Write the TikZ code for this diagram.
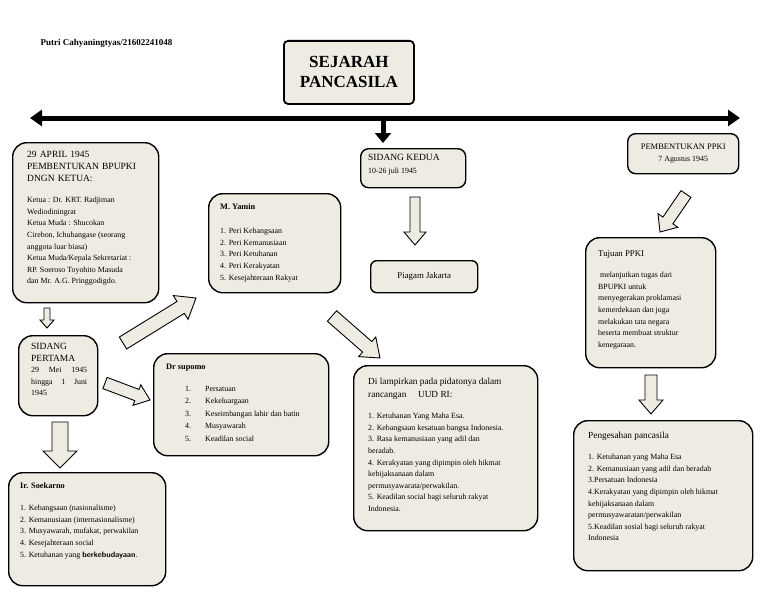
\documentclass[tikz,border=0pt]{standalone}
\usepackage{fontspec}
\setmainfont{Liberation Serif}
\usetikzlibrary{arrows.meta,calc}
\definecolor{bg}{RGB}{238,236,226}
\newcommand\blockarrow[5]{%
 \coordinate (#1c) at ($(#2)!#5!(#1)$);
 \draw[barr] ($(#1)!#3!90:(#2)$) -- ($(#1c)!#3!-90:(#1)$) -- ($(#1c)!#4!-90:(#1)$) -- (#2) -- ($(#1c)!#4!90:(#1)$) -- ($(#1c)!#3!90:(#1)$) -- ($(#1)!#3!-90:(#2)$) -- cycle;}
\begin{document}
\begin{tikzpicture}[x=1pt,y=-1pt,
 box/.style={draw=black,line width=1.4pt,fill=bg,rounded corners=14pt,anchor=north west,inner sep=0},
 txt/.style={anchor=north west,align=left,inner sep=0,font=\fontsize{7.9}{11.6}\selectfont},
 big/.style={txt,font=\fontsize{9.5}{12}\selectfont},
 barr/.style={draw=black,line width=0.9pt,fill=bg,line join=miter}]
\useasboundingbox (0,0) rectangle (768,594);
\hyphenpenalty=10000
\node[anchor=north west,font=\bfseries\fontsize{9}{10}\selectfont] (au) at (37,36) {Putri Cahyaningtyas/21602241048};
\node[box,rounded corners=4pt,line width=1.8pt,minimum width=130pt,minimum height=63pt] (t) at (283,40) {};
\node[align=center,font=\bfseries\fontsize{17}{20}\selectfont] (tt) at (t.center) {SEJARAH\\PANCASILA};
\coordinate (tl) at (30,118); \coordinate (tr) at (740,118); \coordinate (tm) at (383,118);
\draw[line width=5pt,{Triangle[width=16pt,length=12pt]}-{Triangle[width=16pt,length=12pt]}] (tl) -- (tr);
\coordinate (tmd) at (383,143);
\draw[line width=5pt,-{Triangle[width=16pt,length=10pt]}] (tm) -- (tmd);
% box 1
\node[box,minimum width=146pt,minimum height=160pt] (b1) at (12,142) {};
\node[big,text width=135pt] (b1t) at (27,151) {29 APRIL 1945\\PEMBENTUKAN BPUPKI\\DNGN KETUA:};
\node[txt] (b1u) at (27,197) {Ketua : Dr. KRT. Radjiman\\Wediodiningrat\\Ketua Muda : Shucokan\\Cirebon, Ichubangase (seorang\\anggota luar biasa)\\Ketua Muda/Kepala Sekretariat :\\RP. Soeroso Toyohito Masuda\\dan Mr. A.G. Pringgodigdo.};
% sidang kedua
\node[box,minimum width=105pt,minimum height=39pt,rounded corners=8pt] (sk) at (360,148) {};
\node[big] (skt) at (368,154) {SIDANG KEDUA};
\node[txt] (sku) at (368,168) {10-26 juli 1945};
% ppki
\node[box,minimum width=111pt,minimum height=40pt,rounded corners=8pt] (pp) at (627,133) {};
\node[align=center,inner sep=0,font=\fontsize{8.5}{12}\selectfont] (ppt) at (pp.center) {PEMBENTUKAN PPKI\\{\fontsize{7.9}{10}\selectfont 7 Agustus 1945}};
% yamin
\node[box,minimum width=132pt,minimum height=99pt] (ym) at (208,193) {};
\node[txt,font=\bfseries\fontsize{8.3}{10}\selectfont] (ymt) at (220,204) {M. Yamin};
\node[txt] (ymu) at (220,228) {1. Peri Kebangsaan\\2. Peri Kemanusiaan\\3. Peri Ketuhanan\\4. Peri Kerakyatan\\5. Kesejahteraan Rakyat};
% piagam
\node[box,minimum width=107pt,minimum height=32pt,rounded corners=6pt] (pj) at (370,260) {};
\node[inner sep=0,font=\fontsize{8.8}{10}\selectfont] (pjt) at (pj.center) {Piagam Jakarta};
% tujuan ppki
\node[box,minimum width=130pt,minimum height=130pt] (tu) at (585,237) {};
\node[txt,font=\fontsize{8.8}{10}\selectfont] (tut) at (598,250) {Tujuan PPKI};
\node[txt] (tuu) at (598,272) {\ melanjutkan tugas dari\\BPUPKI untuk\\menyegerakan proklamasi\\kemerdekaan dan juga\\melakukan tata negara\\beserta membuat struktur\\kenegaraan.};
% sidang pertama
\node[box,minimum width=79pt,minimum height=80pt] (sp) at (18,335) {};
\node[big] (spt) at (31,343) {SIDANG\\PERTAMA};
\node[txt,text width=56pt,align=justify] (spu) at (31,367) {29\hfill Mei\hfill 1945\\hingga\hfill 1\hfill Juni\\1945};
% supomo
\node[box,minimum width=175pt,minimum height=102pt] (su) at (153,353) {};
\node[txt,font=\bfseries\fontsize{8.3}{10}\selectfont] (sut) at (166,364) {Dr supomo};
\node[txt,font=\fontsize{7.9}{12.4}\selectfont] (suu) at (185,386) {1.\hspace{14pt}Persatuan\\2.\hspace{14pt}Kekeluargaan\\3.\hspace{14pt}Keseimbangan lahir dan batin\\4.\hspace{14pt}Musyawarah\\5.\hspace{14pt}Keadilan social};
% di lampirkan
\node[box,minimum width=184pt,minimum height=165pt] (dl) at (353,365) {};
\node[txt,font=\fontsize{9.3}{12.5}\selectfont] (dlt) at (368,378) {Di lampirkan pada pidatonya dalam\\rancangan \quad UUD RI:};
\node[txt] (dlu) at (368,413) {1. Ketuhanan Yang Maha Esa.\\2. Kebangsaan kesatuan bangsa Indonesia.\\3. Rasa kemanusiaan yang adil dan\\beradab.\\4. Kerakyatan yang dipimpin oleh hikmat\\kebijaksanaan dalam\\permusyawarata/perwakilan.\\5. Keadilan social bagi seluruh rakyat\\Indonesia.};
% pengesahan
\node[box,minimum width=179pt,minimum height=150pt] (pg) at (573,420) {};
\node[txt,font=\fontsize{9.3}{11}\selectfont] (pgt) at (588,432) {Pengesahan pancasila};
\node[txt] (pgu) at (588,454) {1. Ketuhanan yang Maha Esa\\2. Kemanusiaan yang adil dan beradab\\3.Persatuan Indonesia\\4.Kerakyatan yang dipimpin oleh hikmat\\kebijaksanaan dalam\\permusyawaratan/perwakilan\\5.Keadilan sosial bagi seluruh rakyat\\Indonesia};
% soekarno
\node[box,minimum width=157pt,minimum height=113pt] (so) at (8,472) {};
\node[txt,font=\bfseries\fontsize{8.3}{10}\selectfont] (sot) at (20,483) {Ir. Soekarno};
\node[txt] (sou) at (20,505) {1. Kebangsaan (nasionalisme)\\2. Kemanusiaan (internasionalisme)\\3. Musyawarah, mufakat, perwakilan\\4. Kesejahteraan social\\5. Ketuhanan yang \textbf{\sffamily berkebudayaan}.};
% block arrows
\coordinate (a1) at (47,308); \coordinate (a1e) at (47,328);
\coordinate (a2) at (60,422); \coordinate (a2e) at (60,468);
\coordinate (a3) at (123,343); \coordinate (a3e) at (196,298);
\coordinate (a4) at (105,383); \coordinate (a4e) at (150,400);
\coordinate (a5) at (332,316); \coordinate (a5e) at (380,358);
\coordinate (a6) at (415,197); \coordinate (a6e) at (415,245);
\coordinate (a7) at (686,194); \coordinate (a7e) at (660,232);
\coordinate (a8) at (651,375); \coordinate (a8e) at (651,414);
\blockarrow{a1}{a1e}{3pt}{7pt}{8pt}
\blockarrow{a2}{a2e}{8pt}{17pt}{17pt}
\blockarrow{a3}{a3e}{7pt}{14pt}{18pt}
\blockarrow{a4}{a4e}{6pt}{11pt}{14pt}
\blockarrow{a5}{a5e}{7pt}{13pt}{17pt}
\blockarrow{a6}{a6e}{5pt}{11pt}{13pt}
\blockarrow{a7}{a7e}{6pt}{12pt}{14pt}
\blockarrow{a8}{a8e}{6pt}{12pt}{14pt}
\end{tikzpicture}
\end{document}
